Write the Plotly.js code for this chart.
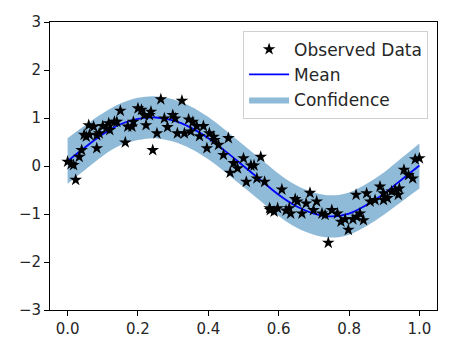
<!DOCTYPE html>
<html>
<head>
<meta charset="utf-8">
<script src="https://cdn.plot.ly/plotly-3.0.1.min.js"></script>
<style>html,body{margin:0;padding:0;background:#fff;}#chart{width:455px;height:351px;}</style>
</head>
<body>
<div id="chart"></div>
<script>
const obsX = [0.0,0.01,0.017,0.023,0.033,0.04,0.047,0.053,0.06,0.062,0.074,0.083,0.083,0.09,0.10,0.11,0.117,0.12,0.133,0.14,0.15,0.164,0.171,0.183,0.187,0.20,0.21,0.218,0.223,0.233,0.237,0.242,0.254,0.265,0.275,0.284,0.299,0.306,0.312,0.325,0.332,0.344,0.35,0.356,0.367,0.375,0.386,0.396,0.403,0.415,0.418,0.429,0.443,0.457,0.462,0.472,0.483,0.50,0.508,0.521,0.53,0.538,0.549,0.56,0.574,0.576,0.587,0.597,0.609,0.621,0.63,0.634,0.647,0.653,0.666,0.678,0.689,0.699,0.708,0.723,0.732,0.741,0.751,0.767,0.777,0.789,0.798,0.811,0.82,0.822,0.831,0.841,0.85,0.86,0.874,0.888,0.898,0.898,0.909,0.921,0.931,0.94,0.943,0.956,0.969,0.981,0.988,1.0];
const obsY = [0.09,0.04,0.02,-0.29,0.19,0.33,0.65,0.61,0.85,0.65,0.82,0.64,0.37,0.68,0.83,0.78,0.89,0.75,0.92,0.92,1.15,0.49,0.82,0.82,0.92,1.2,1.17,1.06,0.85,1.06,1.13,0.33,0.68,1.39,0.99,0.81,1.06,0.99,0.68,1.36,0.68,0.97,0.72,0.92,0.83,0.62,0.83,0.37,0.68,0.61,0.54,0.44,0.23,0.58,-0.14,0.06,-0.05,0.16,-0.33,0.01,0.01,-0.26,0.19,-0.33,-0.88,-0.92,-0.95,-0.88,-0.49,-0.93,-0.88,-0.99,-0.69,-0.74,-0.99,-0.78,-0.56,-0.92,-0.74,-0.99,-1.02,-1.6,-0.92,-0.99,-1.16,-1.11,-1.33,-1.11,-0.60,-1.06,-0.99,-1.13,-0.57,-0.74,-0.71,-0.43,-0.71,-0.57,-0.67,-0.53,-0.5,-0.6,-0.47,-0.08,-0.19,-0.26,0.14,0.16];

// Posterior mean and confidence region
const gridX = [0,0.05,0.1,0.15,0.2,0.25,0.3,0.35,0.4,0.45,0.5,0.55,0.6,0.65,0.7,0.75,0.8,0.85,0.9,0.95,1.0];
const meanY = [0.10,0.39,0.66,0.87,0.98,1.01,0.95,0.80,0.58,0.30,0.0,-0.30,-0.60,-0.84,-0.99,-1.05,-0.99,-0.81,-0.57,-0.28,0.01];
const upperY = [0.58,0.85,1.10,1.30,1.42,1.45,1.39,1.24,1.02,0.74,0.44,0.14,-0.16,-0.40,-0.55,-0.61,-0.55,-0.37,-0.13,0.17,0.47];
const lowerY = [-0.37,-0.08,0.21,0.43,0.54,0.58,0.51,0.36,0.14,-0.14,-0.44,-0.74,-1.04,-1.28,-1.43,-1.49,-1.43,-1.25,-1.01,-0.74,-0.47];

const fnt = {family: 'DejaVu Sans, sans-serif', size: 15, color: '#262626'};
const legFnt = {family: 'DejaVu Sans, sans-serif', size: 17, color: '#262626'};

const traces = [
  {x: gridX, y: upperY, type: 'scatter', mode: 'lines', line: {width: 0, color: '#8fbbd9', shape: 'spline'},
   showlegend: false, hoverinfo: 'skip'},
  {x: gridX, y: lowerY, type: 'scatter', mode: 'lines', fill: 'tonexty', fillcolor: '#8fbbd9',
   line: {width: 0, color: '#8fbbd9', shape: 'spline'}, name: 'Confidence', legendrank: 3},
  {x: gridX, y: meanY, type: 'scatter', mode: 'lines', line: {color: '#0000ff', width: 1.8, shape: 'spline'},
   name: 'Mean', legendrank: 2},
  {x: obsX, y: obsY, type: 'scatter', mode: 'markers', marker: {symbol: 'star', size: 9.5, color: '#000000'},
   name: 'Observed Data', legendrank: 1}
];

const axisCommon = {
  showgrid: false, zeroline: false, showline: true, mirror: true, linecolor: '#000', linewidth: 1,
  ticks: 'outside', ticklen: 5, tickwidth: 1, tickcolor: '#000', tickfont: fnt
};

const layout = {
  width: 455, height: 351,
  margin: {l: 50, r: 18, t: 22, b: 41},
  paper_bgcolor: '#fff', plot_bgcolor: '#fff',
  font: fnt,
  xaxis: Object.assign({}, axisCommon, {range: [-0.05, 1.05], tickvals: [0,0.2,0.4,0.6,0.8,1.0], tickformat: '.1f'}),
  yaxis: Object.assign({}, axisCommon, {range: [-3, 3], tickvals: [-3,-2,-1,0,1,2,3]}),
  legend: {x: 0.977, y: 0.97, xanchor: 'right', yanchor: 'top', bgcolor: 'rgba(255,255,255,0.8)',
    bordercolor: '#d0d0d0', borderwidth: 1, font: legFnt, traceorder: 'normal', itemwidth: 40},
  showlegend: true
};

Plotly.newPlot('chart', traces, layout, {displayModeBar: false, staticPlot: true});
</script>
</body>
</html>
